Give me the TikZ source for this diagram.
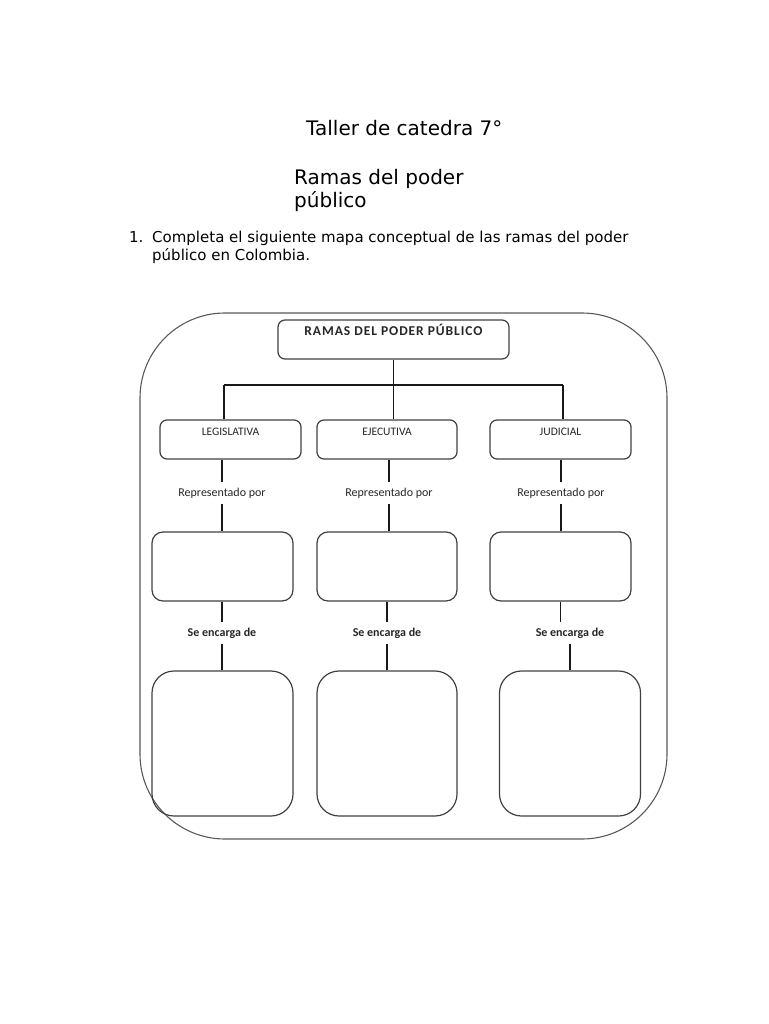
\documentclass[tikz,border=0pt]{standalone}
\usepackage{fontspec}
\setmainfont{DejaVu Sans}
\newfontfamily\diafont{Carlito}
\usetikzlibrary{calc}

\begin{document}
\begin{tikzpicture}[
    x=1pt, y=-1pt,
    marco/.style={draw=black!65, line width=1.1pt, rounded corners=85, minimum width=527, minimum height=526, inner sep=0},
    rama/.style={draw=black!75, line width=1.2pt, rounded corners=7, minimum width=141, minimum height=39, inner sep=0},
    casilla/.style={rama, rounded corners=11, minimum height=69},
    tarea/.style={rama, rounded corners=22, minimum height=145},
    rotulo/.style={font=\diafont\fontsize{11.5}{13}\selectfont, text=black!85, anchor=base, yshift=-16, inner sep=0},
    enlace/.style={font=\diafont\fontsize{12}{14}\selectfont, text=black!85, inner sep=5.5},
    encargo/.style={enlace, font=\diafont\bfseries\fontsize{12}{14}\selectfont},
    linea/.style={draw=black!90, line width=1.3pt},
    titulo/.style={anchor=base west, inner sep=0, font=\fontsize{20}{24}\selectfont}
  ]
  \useasboundingbox (0,0) rectangle (768,1024);

  % --- ENCABEZADO ---
  % (multi-line nodes sit on the baseline of their last line)
  \node[titulo] (taller) at (306,136) {Taller de catedra 7°};
  \node[titulo, align=left] (tema) at (294,208) {Ramas del poder\\público};
  \node[anchor=base west, inner sep=0, font=\fontsize{15}{18}\selectfont] (num) at (129,242) {1.};
  \node[anchor=base west, inner sep=0, align=left, font=\fontsize{15}{18}\selectfont] (consigna) at (152,260)
    {Completa el siguiente mapa conceptual de las ramas del poder\\público en Colombia.};

  % --- MARCO ---
  \node[marco] (marco) at (403.5,576) {};

  % --- RAIZ ---
  \node[rama, minimum width=231,
    label={[rotulo, font=\diafont\bfseries\fontsize{13.5}{15}\selectfont\addfontfeature{LetterSpace=7}]north:RAMAS DEL PODER PÚBLICO}]
    (raiz) at (393.5,339.5) {};

  % --- RAMAS ---
  \node[rama, label={[rotulo]north:LEGISLATIVA}] (leg) at (230.5,439.5) {};
  \node[rama, minimum width=140, label={[rotulo]north:EJECUTIVA}] (eje) at (387,439.5) {};
  \node[rama, label={[rotulo]north:JUDICIAL}] (jud) at (560.5,439.5) {};

  % --- Representado por ---
  \node[enlace] (repL) at (222,493) {Representado por};
  \node[enlace] (repE) at (389,493) {Representado por};
  \node[enlace] (repJ) at (561,493) {Representado por};

  % --- Casillas en blanco ---
  \node[casilla] (casL) at (222.5,566.5) {};
  \node[casilla, minimum width=140] (casE) at (387,566.5) {};
  \node[casilla] (casJ) at (560.5,566.5) {};

  % --- Se encarga de ---
  \node[encargo] (encL) at (222,633) {Se encarga de};
  \node[encargo] (encE) at (387,633) {Se encarga de};
  \node[encargo] (encJ) at (570,633) {Se encarga de};

  % --- Tareas ---
  \node[tarea] (tarL) at (222.5,743.5) {};
  \node[tarea, minimum width=140] (tarE) at (387,743.5) {};
  \node[tarea] (tarJ) at (570,743.5) {};

  % --- CONEXIONES ---
  \coordinate (bus) at (392,385);
  \draw[linea] (raiz.south) -- (raiz.south |- bus);
  \draw[linea] ($(repL |- bus)+(2,0)$) -- ($(repJ |- bus)+(2,0)$);
  \draw[linea] ($(repL |- bus)+(2,0)$) -- ($(repL |- leg.north)+(2,0)$);
  \draw[linea] (raiz.south |- bus) -- (raiz.south |- eje.north);
  \draw[linea] ($(repJ |- bus)+(2,0)$) -- ($(repJ |- jud.north)+(2,0)$);

  % fila de Representado por
  \foreach \r/\e in {L/leg, E/eje, J/jud}{
    \draw[linea] (rep\r.north |- \e.south) -- (rep\r.north);
    \draw[linea] (rep\r.south) -- (rep\r.south |- cas\r.north);
  }

  % fila de Se encarga de
  \foreach \r in {L, E}{
    \draw[linea] (enc\r.north |- cas\r.south) -- (enc\r.north);
    \draw[linea] (enc\r.south) -- (enc\r.south |- tar\r.north);
  }
  \draw[linea] (casJ.south) -- (casJ.south |- encJ.north);
  \draw[linea] (encJ.south) -- (tarJ.north);

\end{tikzpicture}
\end{document}
